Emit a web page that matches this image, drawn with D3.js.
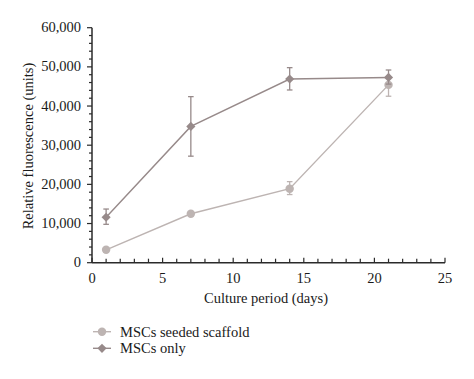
<!DOCTYPE html>
<html><head><meta charset="utf-8">
<script src="https://cdn.jsdelivr.net/npm/d3@7"></script>
<style>body{margin:0;background:#fff}svg{display:block}</style>
</head><body>
<svg id="c" width="474" height="379"></svg>
<script>
const days = [1, 7, 14, 21];
const scaffoldMean = [3300, 12500, 18900, 45400];
const scaffoldLow = [3300, 12500, 17400, 42500];
const scaffoldHigh = [3300, 12500, 20700, 47500];
const onlyMean = [11600, 34800, 46900, 47300];
const onlyLow = [9800, 27200, 44100, 45600];
const onlyHigh = [13700, 42400, 49800, 49200];
const xTicks = [0, 5, 10, 15, 20, 25];
const yTicks = [0, 10000, 20000, 30000, 40000, 50000, 60000];
const seriesNames = ["MSCs seeded scaffold", "MSCs only"];

const svg = d3.select("#c");
const font = "'Liberation Serif', 'Times New Roman', serif";
const x = d3.scaleLinear().domain([0, 25]).range([92, 445]);
const y = d3.scaleLinear().domain([0, 60000]).range([262.7, 27.7]);
const axisColor = "#2a2a2a";
const textColor = "#1a1a1a";

// y axis with minor ticks
const gy = svg.append("g");
gy.selectAll("line.minor").data(d3.range(0, 60001, 2000)).join("line")
  .attr("x1", x(0)).attr("x2", d => (d % 10000 === 0) ? x(0) - 5 : x(0) - 3)
  .attr("y1", d => y(d)).attr("y2", d => y(d))
  .attr("stroke", axisColor).attr("stroke-width", 1.2);
gy.append("line").attr("x1", x(0)).attr("x2", x(0)).attr("y1", y(60000)).attr("y2", y(0))
  .attr("stroke", axisColor).attr("stroke-width", 1.5);
gy.selectAll("text").data(yTicks).join("text")
  .attr("x", x(0) - 11).attr("y", d => y(d) + 4.5)
  .attr("text-anchor", "end").attr("font-family", font).attr("font-size", 14.5)
  .attr("fill", textColor).text(d => d3.format(",")(d));

// x axis
const gx = svg.append("g");
gx.selectAll("line.minor").data(d3.range(0, 26, 1)).join("line")
  .attr("x1", d => x(d)).attr("x2", d => x(d))
  .attr("y1", y(0)).attr("y2", d => d % 5 === 0 ? y(0) - 5 : y(0) - 4)
  .attr("stroke", axisColor).attr("stroke-width", 1.2);
gx.append("line").attr("x1", x(0)).attr("x2", x(25)).attr("y1", y(0)).attr("y2", y(0))
  .attr("stroke", axisColor).attr("stroke-width", 1.5);
gx.selectAll("text").data(xTicks).join("text")
  .attr("x", d => x(d)).attr("y", 283)
  .attr("text-anchor", "middle").attr("font-family", font).attr("font-size", 14.5)
  .attr("fill", textColor).text(d => d);

svg.append("text").attr("x", 266).attr("y", 303).attr("text-anchor", "middle")
  .attr("font-family", font).attr("font-size", 14.5).attr("fill", textColor)
  .text("Culture period (days)");
svg.append("text").attr("transform", "translate(33,146) rotate(-90)").attr("text-anchor", "middle")
  .attr("font-family", font).attr("font-size", 14.5).attr("fill", textColor)
  .text("Relative fluorescence (units)");

const colScaffold = "#bdb4b2", colOnly = "#978a8a";
const line = d3.line().x(d => x(d[0])).y(d => y(d[1]));
const circSym = d3.symbol().type(d3.symbolCircle).size(56);
const diaSym = d3.symbol().type(d3.symbolSquare).size(42);

function drawSeries(mean, low, high, col, sym, rot) {
  const g = svg.append("g");
  g.append("path").datum(days.map((d, i) => [d, mean[i]])).attr("d", line)
    .attr("fill", "none").attr("stroke", col).attr("stroke-width", 1.4);
  days.forEach((d, i) => {
    if (high[i] - low[i] > 0) {
      g.append("line").attr("x1", x(d)).attr("x2", x(d)).attr("y1", y(low[i])).attr("y2", y(high[i]))
        .attr("stroke", col).attr("stroke-width", 1.3);
      [low[i], high[i]].forEach(v => g.append("line").attr("x1", x(d) - 2.8).attr("x2", x(d) + 2.8)
        .attr("y1", y(v)).attr("y2", y(v)).attr("stroke", col).attr("stroke-width", 1.3));
    }
  });
  g.selectAll("path.m").data(days).join("path").attr("class", "m")
    .attr("transform", (d, i) => `translate(${x(d)},${y(mean[i])}) rotate(${rot})`)
    .attr("d", sym).attr("fill", col);
}
drawSeries(scaffoldMean, scaffoldLow, scaffoldHigh, colScaffold, circSym, 0);
drawSeries(onlyMean, onlyLow, onlyHigh, colOnly, diaSym, 45);

// legend
const leg = [[seriesNames[0], colScaffold, circSym, 331.7, 0], [seriesNames[1], colOnly, diaSym, 348.3, 45]];
leg.forEach(([name, col, sym, ly, rot]) => {
  svg.append("line").attr("x1", 93).attr("x2", 111).attr("y1", ly).attr("y2", ly)
    .attr("stroke", col).attr("stroke-width", 1.4);
  svg.append("path").attr("transform", `translate(102,${ly}) rotate(${rot})`).attr("d", sym).attr("fill", col);
  svg.append("text").attr("x", 120).attr("y", ly + 4.8).attr("font-family", font).attr("font-size", 14.5)
    .attr("fill", textColor).text(name);
});
</script>
</body></html>
